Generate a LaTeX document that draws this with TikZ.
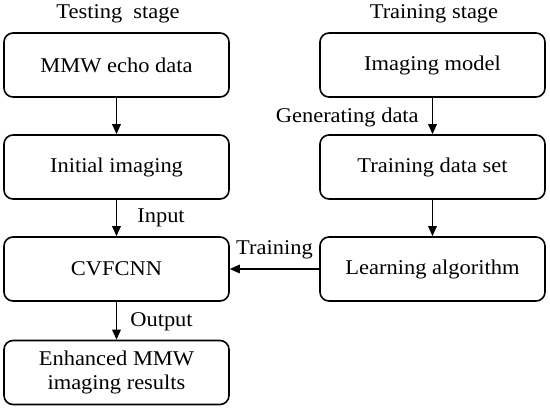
\documentclass[tikz,border=0pt]{standalone}
\usepackage{fontspec}
\setmainfont{Liberation Serif}[FakeStretch=1.07]
\usetikzlibrary{arrows.meta}
\begin{document}
\begin{tikzpicture}[x=1pt,y=-1pt,
  box/.style={draw,line width=1.6pt,rounded corners=9pt,minimum width=225pt,minimum height=64pt,inner sep=0pt,align=center,font=\fontsize{21}{23.5}\selectfont},
  lbl/.style={inner sep=0pt,font=\fontsize{21}{23.5}\selectfont},
  arr/.style={line width=1.6pt,-{Triangle[length=10pt,width=8.5pt]}}]
\useasboundingbox (0,0) rectangle (550,408);
\node[box] (echo) at (116.5,65) {MMW echo data};
\node[box] (init) at (116.5,167) {Initial imaging};
\node[box] (cnn) at (116.5,269) {CVFCNN};
\node[box] (enh) at (116.5,372.5) {Enhanced MMW\\imaging results};
\node[box] (model) at (432.5,65) {Imaging model};
\node[box] (tset) at (432.5,167) {Training data set};
\node[box] (learn) at (432.5,269) {Learning algorithm};
\node[lbl] (t1) at (118,14) {Testing\ \ stage};
\node[lbl] (t2) at (434,14) {Training stage};
\draw[arr] (echo) -- (init);
\draw[arr] (init) -- node[lbl,right=20pt,pos=0.5] (inp) {Input} (cnn);
\draw[arr] (cnn) -- node[lbl,right=13pt,pos=0.54] (outp) {Output} (enh);
\draw[arr] (model) -- node[lbl,left=13pt,pos=0.55] (gen) {Generating data} (tset);
\draw[arr] (tset) -- (learn);
\draw[arr] (learn) -- node[lbl,above=9pt,pos=0.5] (tr) {Training} (cnn);
\end{tikzpicture}
\end{document}
